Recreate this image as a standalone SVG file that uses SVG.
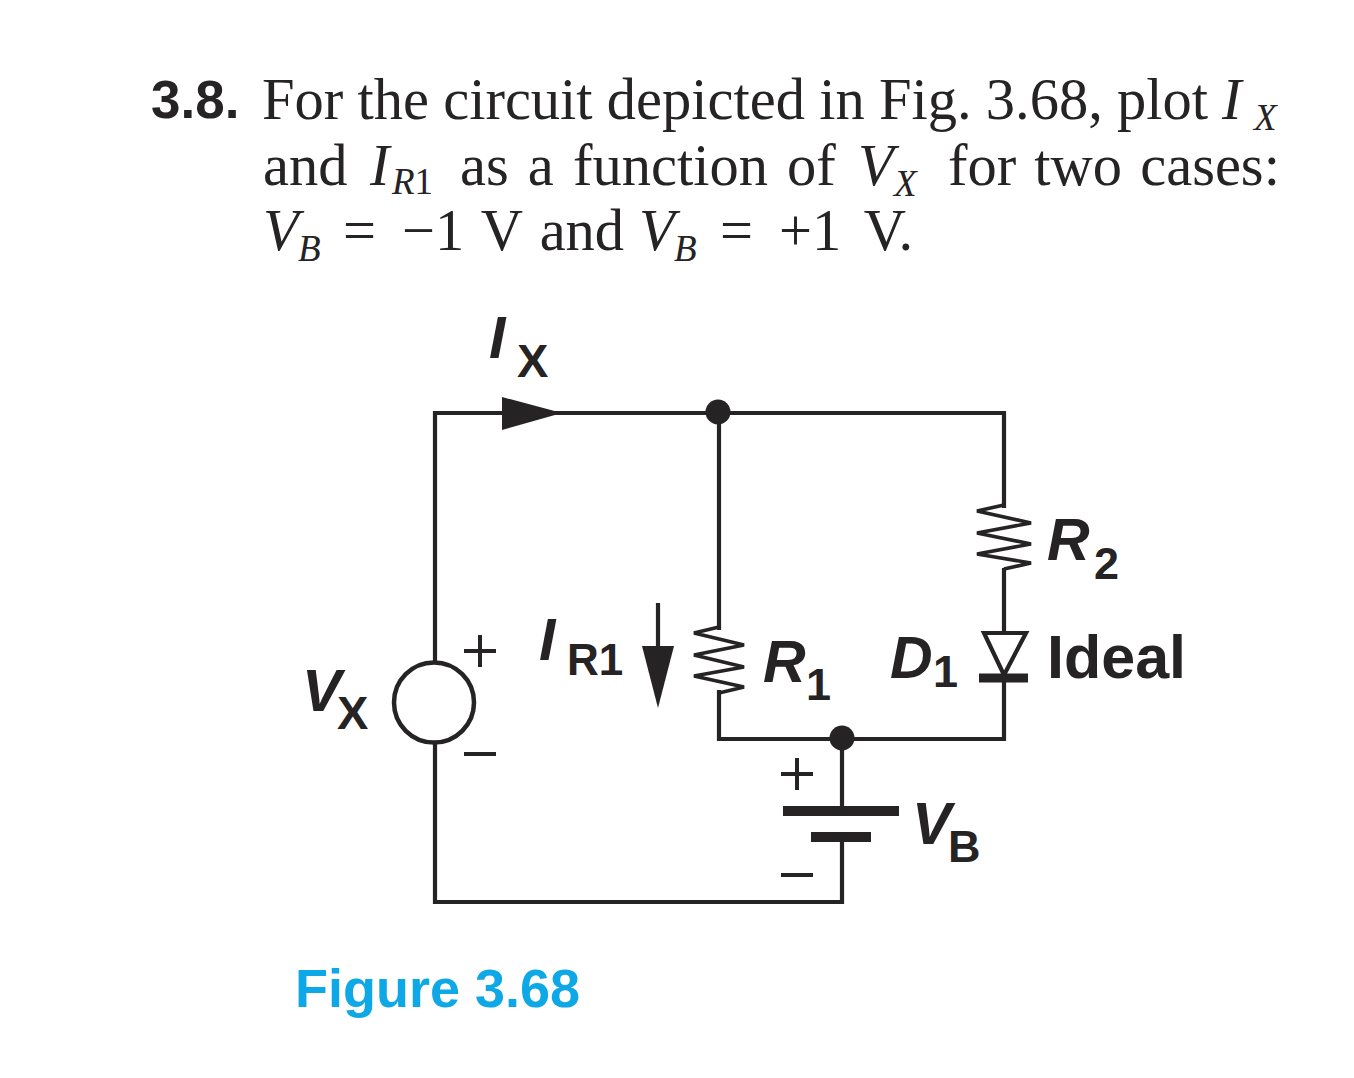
<svg xmlns="http://www.w3.org/2000/svg" width="1354" height="1078" viewBox="0 0 1354 1078">
<style>
text{fill:#262324}
.s{font-family:"Liberation Serif",serif;font-size:58.500px}
.i{font-style:italic}
.sb{font-size:37px}
.h{font-family:"Liberation Sans",sans-serif;font-weight:700;font-size:59px}
.hi{font-style:italic}
.t{font-size:45px}
.w{fill:none;stroke:#262324;stroke-width:4.2;stroke-linejoin:miter}
.z{fill:none;stroke:#262324;stroke-width:3.6;stroke-linejoin:miter}
.b{fill:#262324}
</style>
<rect width="1354" height="1078" fill="#fff"/>
<g id="problem-text">
<text x="151" y="118" font-family="Liberation Sans,sans-serif" font-weight="700" font-size="53">3.8.</text>
<text class="s" x="262" y="119" word-spacing="-0.400">For the circuit depicted in Fig. 3.68, plot</text>
<text class="s i" x="1222" y="119">I</text><text class="s i sb" x="1254" y="130">X</text>
<text class="s" x="263" y="185">and</text>
<text class="s i" x="370" y="185">I</text><text class="s sb" x="392" y="194"><tspan class="i">R</tspan>1</text>
<text class="s" x="460" y="185" word-spacing="4.500">as a function of</text>
<text class="s i" x="858" y="185">V</text><text class="s i sb" x="894" y="196">X</text>
<text class="s" x="948" y="185" word-spacing="3.500">for two cases:</text>
<text class="s i" x="263" y="250">V</text><text class="s i sb" x="298" y="261">B</text>
<text class="s" x="343" y="250">=</text>
<text class="s" x="402" y="250" word-spacing="3">−1 V and</text>
<text class="s i" x="639" y="250">V</text><text class="s i sb" x="674" y="261">B</text>
<text class="s" x="720" y="250">=</text>
<text class="s" x="779" y="250" word-spacing="9">+1 V.</text>
</g>
<g id="connectors">
<path class="w" d="M435 662V413H1004V508"/>
<path class="w" d="M719 413V630"/>
<path class="w" d="M719 690V739H1004V680"/>
<path class="w" d="M1004 568V632"/>
<path class="w" d="M435 742V902H842V835"/>
<path class="w" d="M842 739V810"/>
</g>
<g id="vx-source"><circle cx="434" cy="702.500" r="40" fill="none" stroke="#262324" stroke-width="4.500"/></g>
<g id="ix-arrow"><path class="b" d="M502 397L562 413L502 430Z"/></g>
<g id="ir1-arrow"><path class="w" d="M658 603V650"/><path class="b" d="M642 646H674L658 708Z"/></g>
<g id="node-top"><circle class="b" cx="718" cy="412" r="12.500"/></g>
<g id="node-bottom"><circle class="b" cx="842" cy="738" r="12.500"/></g>
<g id="r1"><path class="z" d="M719 627L694 633L744 645L694 655L744 667L694 676L744 687L719 693"/></g>
<g id="r2"><path class="z" d="M1004 505L977 511L1031 523L977 533L1031 544L977 554L1031 563L1004 569"/></g>
<g id="d1"><path class="w" d="M984 633H1026L1004 675Z"/><path d="M979 678H1028" stroke="#262324" stroke-width="9" fill="none"/></g>
<g id="vb"><path d="M783 811H899" stroke="#262324" stroke-width="10" fill="none"/><path d="M811 837H871" stroke="#262324" stroke-width="10" fill="none"/></g>
<g id="labels">
<text class="h hi" x="489" y="358">I</text><text class="h" x="517" y="377" style="font-size:47px">X</text>
<text class="h hi" x="302" y="711">V</text><text class="h" x="337" y="729" style="font-size:47px">X</text>
<path class="b" d="M464 649H496V653H464ZM478 635H482V667H478ZM464 752H496V756H464Z"/>
<text class="h hi" x="539" y="660">I</text><text class="h" x="567" y="675" style="font-size:44px">R1</text>
<text class="h hi" x="763" y="682">R</text><text class="h t" x="806" y="700">1</text>
<text class="h hi" x="890" y="678">D</text><text class="h t" x="933" y="687">1</text>
<text class="h" x="1047" y="678" style="font-size:61px">Ideal</text>
<text class="h hi" x="1047" y="560">R</text><text class="h t" x="1094" y="579">2</text>
<text class="h hi" x="912" y="844">V</text><text class="h t" x="948" y="862">B</text>
<path class="b" d="M781 772H813V776H781ZM795 758H799V790H795ZM781 873H813V877H781Z"/>
</g>
<g id="caption"><text x="295" y="1007" font-family="Liberation Sans,sans-serif" font-weight="700" font-size="54" style="fill:#0fa8e6">Figure 3.68</text></g>
</svg>
